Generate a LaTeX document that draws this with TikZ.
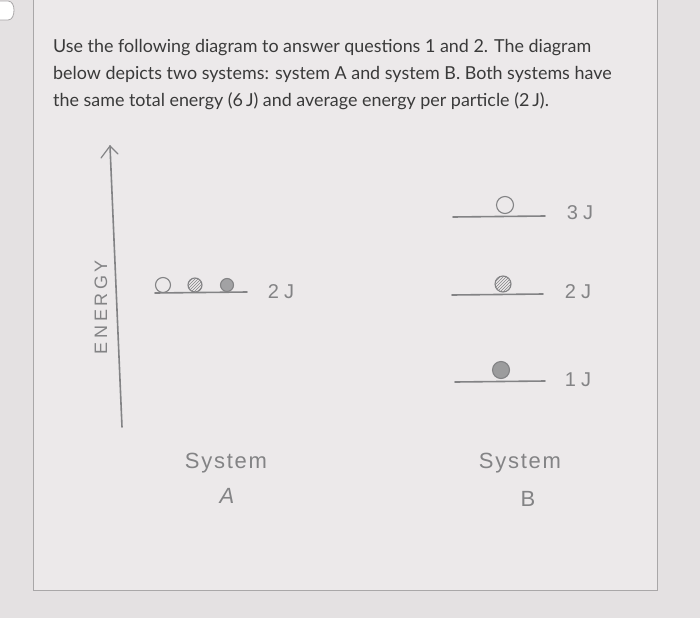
\documentclass[tikz,border=0pt]{standalone}
\usepackage{fontspec}
\setmainfont{Lato}
\newfontfamily\hand{Liberation Sans}
\usetikzlibrary{patterns}
\definecolor{outerbg}{HTML}{E4E1E2}
\definecolor{innerbg}{HTML}{ECE9EA}
\definecolor{frame}{HTML}{A9A7A8}
\definecolor{txt}{HTML}{3A3A3A}
\definecolor{pencil}{HTML}{838385}
\tikzset{
  lvl/.style={draw=pencil, line width=1.6pt, line cap=round},
  pt/.style={draw=pencil, line width=1.1pt},
  handtxt/.style={text=pencil, font=\hand\fontsize{20}{20}\selectfont\addfontfeature{LetterSpace=25}, inner sep=0pt},
  syslbl/.style={text=pencil, font=\hand\fontsize{22}{22}\selectfont\addfontfeature{LetterSpace=8}, inner sep=0pt},
  para/.style={text=txt, font=\fontsize{17.9}{27}\selectfont, anchor=west, inner sep=0pt},
}
\begin{document}
\begin{tikzpicture}[x=1pt,y=-1pt]
\useasboundingbox (0,0) rectangle (700,618);
\fill[outerbg] (0,0) rectangle (700,618);
\fill[innerbg] (33,0) rectangle (657,590);
\draw[frame, line width=0.8pt] (33,0) -- (33,590) -- (657,590) -- (657,0);
% corner tab
\draw[frame, fill=white, line width=0.8pt] (-2,1) -- (8,1) to[out=0,in=90] (14,10) to[out=-90,in=0] (8,20) -- (-2,20);
% text
\node[para] (l1) at (53,48) {Use the following diagram to answer questions 1 and 2. The diagram};
\node[para] (l2) at (53,74) {below depicts two systems: system A and system B. Both systems have};
\node[para] (l3) at (53,101) {the same total energy (6\,J) and average energy per particle (2\,J).};
% energy axis
\coordinate (axb) at (122,427);
\coordinate (axt) at (110,146);
\draw[draw=pencil, line width=1.6pt, line cap=round] (axb) -- (axt);
\coordinate (ahl) at (101,158);
\coordinate (ahr) at (118,154);
\draw[draw=pencil, line width=1.2pt, line cap=round] (ahl) -- (axt) -- (ahr);
\node[text=pencil, inner sep=0pt, rotate=90, font=\hand\fontsize{18}{18}\selectfont\addfontfeature{LetterSpace=20}] (en) at (101,307) {ENERGY};
% System A
\coordinate (a1) at (155,293); \coordinate (a2) at (247,292);
\draw[lvl] (a1) -- (a2);
\node[pt, circle, minimum size=15pt, inner sep=0pt] (ca1) at (163,285) {};
\node[pt, circle, minimum size=14pt, inner sep=0pt, pattern=north east lines, pattern color=pencil] (ca2) at (195,285) {};
\node[pt, circle, minimum size=13pt, inner sep=0pt, fill=pencil!75] (ca3) at (227,285) {};
\node[handtxt] (la) at (281,292) {2J};
% System B
\coordinate (b31) at (453,217); \coordinate (b32) at (545,216);
\coordinate (b21) at (452,295); \coordinate (b22) at (543,294);
\coordinate (b11) at (455,382); \coordinate (b12) at (545,381);
\draw[lvl] (b31) -- (b32);
\draw[lvl] (b21) -- (b22);
\draw[lvl] (b11) -- (b12);
\node[pt, circle, minimum size=17pt, inner sep=0pt] (cb3) at (505,205) {};
\node[pt, circle, minimum size=16pt, inner sep=0pt, pattern=north east lines, pattern color=pencil] (cb2) at (503,284) {};
\node[pt, circle, minimum size=17pt, inner sep=0pt, fill=pencil!80] (cb1) at (501,370) {};
\node[handtxt] (l3j) at (580,213) {3J};
\node[handtxt] (l2j) at (578,292) {2J};
\node[handtxt] (l1j) at (578,380) {1J};
% system labels
\node[syslbl] (sa) at (226,463) {System};
\node[syslbl, font=\hand\fontsize{22}{22}\selectfont\itshape] (sa2) at (227,496) {A};
\node[syslbl] (sb) at (520,463) {System};
\node[syslbl] (sb2) at (528,499) {B};
\end{tikzpicture}
\end{document}
